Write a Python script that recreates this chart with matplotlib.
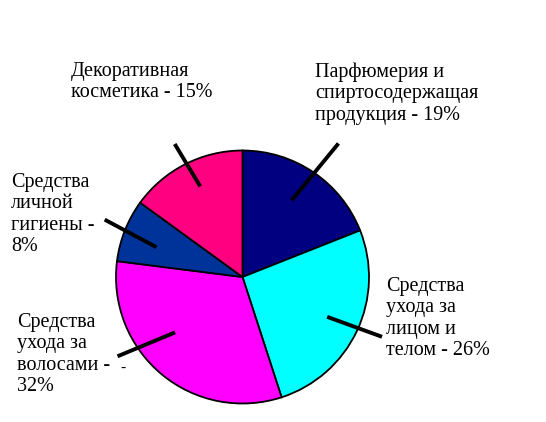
import numpy as np
import matplotlib
matplotlib.use('Agg')
import matplotlib.pyplot as plt

# slices, clockwise from 12 o'clock
labels = ['Парфюмерия и\nспиртосодержащая\nпродукция - 19%',
          'Средства\nухода за\nлицом и\nтелом - 26%',
          'Средства\nухода за\nволосами -\n32%',
          'Средства\nличной\nгигиены -\n8%',
          'Декоративная\nкосметика - 15%']
shares = [19, 26, 32, 8, 15]
colors = ['#000080', '#00ffff', '#ff00ff', '#003399', '#ff0080']

# leader lines: angle offset from slice middle (deg), inner and outer radius
lead_shift_in = [1.5, 0, -11, 2.5, -2]
lead_shift_out = [-1.5, 2, -18, -1, 0]
lead_r_in = [0.72, 0.74, 0.69, 0.72, 0.79]
lead_r_out = [1.30, 1.20, 1.17, 1.18, 1.18]

# label positions in pixels: left edge, first baseline (from top)
lab_x = [315, 386, 17, 11, 71]
lab_y = [77, 291, 327, 187, 76]
line_step = 21.3

W, H = 546, 422
fig = plt.figure(figsize=(W/100, H/100), dpi=100)

# pie placed in a square box (pixels)
cx, cy, R = 242.5, 277, 126.5
ax = fig.add_axes([(cx-R)/W, (H-cy-R)/H, 2*R/W, 2*R/H])
wedges, _ = ax.pie(shares, colors=colors, startangle=90, counterclock=False,
                   wedgeprops=dict(edgecolor='black', linewidth=1.3))
ax.set_xlim(-1, 1)
ax.set_ylim(-1, 1)
ax.axis('off')

for i, w in enumerate(wedges):
    mid = 0.5*(w.theta1 + w.theta2)
    a1 = np.deg2rad(mid + lead_shift_in[i])
    a2 = np.deg2rad(mid + lead_shift_out[i])
    ax.plot([lead_r_in[i]*np.cos(a1), lead_r_out[i]*np.cos(a2)],
            [lead_r_in[i]*np.sin(a1), lead_r_out[i]*np.sin(a2)],
            color='black', lw=2.8, clip_on=False, solid_capstyle='butt')

for i, lab in enumerate(labels):
    for j, line in enumerate(lab.split('\n')):
        fig.text(lab_x[i]/W, 1 - (lab_y[i] + j*line_step)/H, line,
                 family='Liberation Serif', fontsize=14.5,
                 ha='left', va='baseline', color='black')

# stray dash next to the hair-care label
fig.text(120/W, 1 - 372/H, '-', family='Liberation Serif', fontsize=11,
         ha='left', va='baseline')

fig.savefig('out.png', dpi=100)
